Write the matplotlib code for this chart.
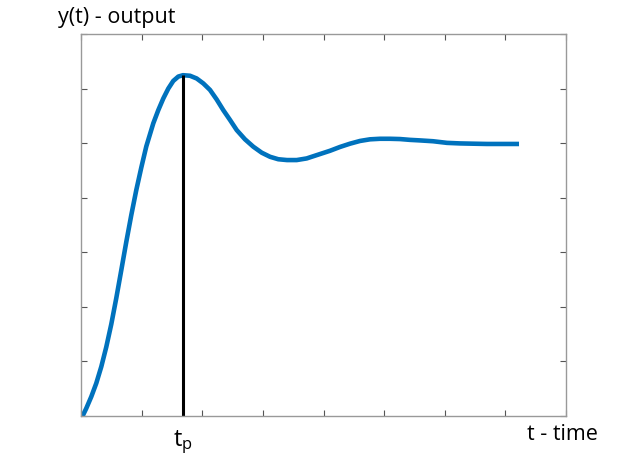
import matplotlib
matplotlib.use('Agg')
import matplotlib.pyplot as plt

plt.rcParams['font.family'] = ['Open Sans', 'DejaVu Sans']
plt.rcParams['mathtext.fontset'] = 'custom'
plt.rcParams['mathtext.rm'] = 'Open Sans'
plt.rcParams['mathtext.it'] = 'Open Sans'

# step response
t = [0.0, 0.033, 0.087, 0.170, 0.252, 0.335, 0.417, 0.500, 0.582, 0.665, 0.747,
     0.830, 0.912, 0.995, 1.077, 1.193, 1.275, 1.358, 1.440, 1.522, 1.605,
     1.682, 1.798, 1.908, 2.017, 2.128, 2.238, 2.347, 2.458, 2.568, 2.705, 2.842,
     2.981, 3.118, 3.254, 3.398, 3.558, 3.723, 3.777, 3.942, 4.107, 4.272, 4.437,
     4.602, 4.767, 4.932, 5.097, 5.262, 5.427, 5.592, 5.806, 6.037, 6.251, 6.466,
     6.697, 6.911, 7.225]
y = [0.0, 0.003, 0.028, 0.071, 0.120, 0.181, 0.253, 0.337, 0.432, 0.535, 0.638,
     0.737, 0.828, 0.911, 0.988, 1.073, 1.121, 1.164, 1.200, 1.228, 1.244,
     1.249, 1.247, 1.237, 1.219, 1.195, 1.160, 1.121, 1.085, 1.048, 1.014, 0.987,
     0.965, 0.950, 0.941, 0.938, 0.938, 0.944, 0.948, 0.960, 0.972, 0.986, 0.998,
     1.008, 1.014, 1.016, 1.016, 1.015, 1.012, 1.010, 1.007, 1.001, 0.999, 0.998,
     0.997, 0.997, 0.997]
t_peak = 1.682
y_peak = 1.249
x_ticks = [0, 1, 2, 3, 4, 5, 6, 7, 8]
y_ticks = [0, 0.2, 0.4, 0.6, 0.8, 1.0, 1.2, 1.4]

fig = plt.figure(figsize=(6.24, 4.68), dpi=100)
ax = fig.add_axes([81/624, 52/468, 485/624, 382/468])

ax.plot(t, y, color='#0072BD', lw=3.3, solid_joinstyle='round', solid_capstyle='butt')
ax.plot([t_peak, t_peak], [0, y_peak], color='black', lw=2.2, solid_capstyle='butt')

ax.set_xlim(0, 8)
ax.set_ylim(0, 1.4)
ax.set_xticks(x_ticks)
ax.set_yticks(y_ticks)
ax.set_xticklabels([])
ax.set_yticklabels([])
ax.tick_params(direction='in', length=4, width=0.8, color='#555555',
               top=True, right=True)
for s in ax.spines.values():
    s.set_color('#999999')
    s.set_linewidth(1.0)

fig.text(58/624, 1 - 18/468, 'y(t) - output', fontsize=15.5, ha='left', va='center')
fig.text(562/624, 1 - 435/468, 't - time', fontsize=15.5, ha='center', va='center')
ax.text(t_peak, -0.045, r'$\mathrm{t}_\mathrm{p}$', fontsize=17, ha='center', va='top')

fig.savefig('out.png', dpi=100)
